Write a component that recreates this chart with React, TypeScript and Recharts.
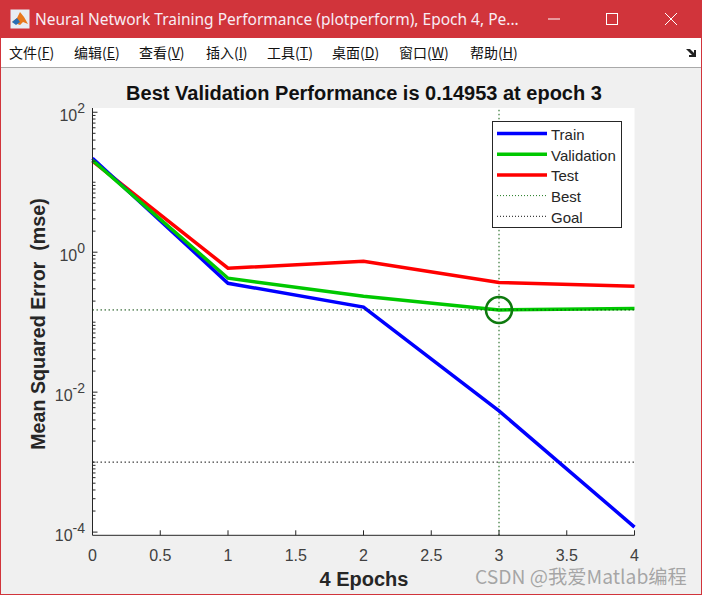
import React from "react";
import { ComposedChart, Line, XAxis, YAxis, CartesianGrid, Legend, ReferenceLine, ReferenceDot } from "recharts";

const epochs = [0, 1, 2, 3, 4];
const trainMse = [22, 0.36, 0.164, 0.0054, 0.000118];
const validationMse = [20.6, 0.425, 0.235, 0.14953, 0.157];
const testMse = [20, 0.59, 0.74, 0.37, 0.327];

const bestEpoch = 3;
const bestMse = 0.14953;
const goalMse = 0.001;

const xTicks = [0, 0.5, 1, 1.5, 2, 2.5, 3, 3.5, 4];
const majorTicks = [0.0001, 0.01, 1, 100];
const yTicks = [
  0.0001, 0.0002, 0.0003, 0.0004, 0.0005, 0.0006, 0.0007, 0.0008, 0.0009,
  0.001, 0.002, 0.003, 0.004, 0.005, 0.006, 0.007, 0.008, 0.009,
  0.01, 0.02, 0.03, 0.04, 0.05, 0.06, 0.07, 0.08, 0.09,
  0.1, 0.2, 0.3, 0.4, 0.5, 0.6, 0.7, 0.8, 0.9,
  1, 2, 3, 4, 5, 6, 7, 8, 9,
  10, 20, 30, 40, 50, 60, 70, 80, 90,
  100,
];
const yLabels: Record<number, string> = { 0.0001: "-4", 0.01: "-2", 1: "0", 100: "2" };

const legendItems = [
  { name: "Train", color: "#0000ff", width: 3.5, dash: undefined },
  { name: "Validation", color: "#00c800", width: 3.5, dash: undefined },
  { name: "Test", color: "#ff0000", width: 3.5, dash: undefined },
  { name: "Best", color: "#1f7a1f", width: 1, dash: "1 2" },
  { name: "Goal", color: "#111111", width: 1, dash: "1 2" },
];

const menus = [
  { zh: "文件", key: "F", x: 9 },
  { zh: "编辑", key: "E", x: 74 },
  { zh: "查看", key: "V", x: 139 },
  { zh: "插入", key: "I", x: 206 },
  { zh: "工具", key: "T", x: 267 },
  { zh: "桌面", key: "D", x: 332 },
  { zh: "窗口", key: "W", x: 399 },
  { zh: "帮助", key: "H", x: 470 },
];

const data = epochs.map((epoch, i) => ({
  epoch,
  train: trainMse[i],
  validation: validationMse[i],
  test: testMse[i],
}));

const FONT = "'Liberation Sans', Arial, sans-serif";
const INK = "#262626";

function XTick({ x, y, payload }: any) {
  return (
    <g>
      {payload.value !== 0 && <line x1={x} x2={x} y1={y} y2={y - 5} stroke={INK} />}
      <text x={x} y={y + 25.5} textAnchor="middle" fontSize={16} fontFamily={FONT} fill="#404040">
        {payload.value}
      </text>
    </g>
  );
}

function YTick({ x, y, payload }: any) {
  const major = majorTicks.includes(payload.value);
  const exp = yLabels[payload.value];
  return (
    <g>
      <line x1={x} x2={x + (major ? 5 : 3)} y1={y} y2={y} stroke={INK} />
      {exp && (
        <text x={x - 7.5} y={y + 8.5} textAnchor="end" fontSize={16} fontFamily={FONT} fill="#404040">
          10
          <tspan dy={-8} fontSize={14}>{exp}</tspan>
        </text>
      )}
    </g>
  );
}

function LegendBox() {
  return (
    <div style={{ width: 128, height: 105, background: "#fff", border: "1px solid #262626", fontFamily: FONT, fontSize: 15, color: INK }}>
      <svg width={128} height={105} style={{ display: "block" }}>
        {legendItems.map((item, i) => {
          const y = 11.5 + i * 20.7;
          return (
            <g key={item.name}>
              <line x1={4} x2={54} y1={y} y2={y} stroke={item.color} strokeWidth={item.width} strokeDasharray={item.dash} />
              <text x={58} y={y + 6.5} fontSize={15} fontFamily={FONT} fill={INK}>{item.name}</text>
            </g>
          );
        })}
      </svg>
    </div>
  );
}

function TitleBar() {
  return (
    <div style={{ position: "absolute", left: 0, top: 0, width: 702, height: 38, background: "#d1343b" }}>
      <svg width={20} height={20} style={{ position: "absolute", left: 10, top: 9 }}>
        <rect x={0.5} y={0.5} width={19} height={19} fill="#e8eef5" />
        <path d="M2 13 L7 9 L10 3 L14 8 L18 15 L13 13 L10 16 Z" fill="#e8791f" />
        <path d="M2 13 L7 9 L10 13 L6 16 Z" fill="#2b6fb5" />
      </svg>
      <div style={{ position: "absolute", left: 35, top: 8, fontFamily: "'Noto Sans', sans-serif", fontSize: 15.5, lineHeight: "22px", color: "#f8ecf4", whiteSpace: "nowrap" }}>
        Neural Network Training Performance (plotperform), Epoch 4, Pe...
      </div>
      <svg width={702} height={38} style={{ position: "absolute", left: 0, top: 0 }}>
        <line x1={548} x2={560} y1={19} y2={19} stroke="#fff" />
        <rect x={606.5} y={13.5} width={11} height={11} fill="none" stroke="#fff" />
        <path d="M665 13 L677 25 M677 13 L665 25" stroke="#fff" />
      </svg>
    </div>
  );
}

function MenuBar() {
  return (
    <div style={{ position: "absolute", left: 0, top: 38, width: 702, height: 30, background: "#fff", borderBottom: "1px solid #a9a9a9", boxSizing: "border-box" }}>
      {menus.map((m) => (
        <div key={m.key} style={{ position: "absolute", left: m.x, top: 3, fontFamily: "'Noto Sans CJK SC', sans-serif", fontSize: 14, lineHeight: "22px", color: "#111", whiteSpace: "nowrap" }}>
          {m.zh}(<u>{m.key}</u>)
        </div>
      ))}
      <svg width={12} height={10} style={{ position: "absolute", left: 685, top: 10 }}>
        <path d="M1 1 L5 1 L9 5 L9 2 L11 2 L11 9 L4 9 L4 7 L7 7 L3 3 Z" fill="#222" />
      </svg>
    </div>
  );
}

export default function App() {
  return (
    <div style={{ position: "absolute", left: 0, top: 0, width: 702, height: 595, overflow: "hidden", background: "#f0f0f0" }}>
      <ComposedChart
        width={702}
        height={595}
        data={data}
        margin={{ left: 42.5, right: 67.5, top: 108, bottom: 29.7 }}
        style={{ position: "absolute", left: 0, top: 0 }}
      >
        <CartesianGrid horizontal={false} vertical={false} fill="#ffffff" />
        <XAxis
          dataKey="epoch"
          type="number"
          domain={[0, 4]}
          ticks={xTicks}
          height={30}
          tick={<XTick />}
          tickLine={false}
          tickSize={0}
          tickMargin={0}
          axisLine={{ stroke: INK }}
          interval={0}
        />
        <YAxis
          type="number"
          scale="log"
          domain={[0.00009, 115]}
          allowDataOverflow
          ticks={yTicks}
          width={50}
          tick={<YTick />}
          tickLine={false}
          tickSize={0}
          tickMargin={0}
          axisLine={{ stroke: INK }}
          interval={0}
        />
        <ReferenceLine y={goalMse} stroke="#111111" strokeDasharray="1.5 2.5" />
        <ReferenceLine x={bestEpoch} stroke="#0a5a0a" strokeDasharray="1.5 2.5" />
        <Line dataKey="test" stroke="#ff0000" strokeWidth={3.5} dot={false} isAnimationActive={false} />
        <Line dataKey="train" stroke="#0000ff" strokeWidth={3.5} dot={false} isAnimationActive={false} />
        <Line dataKey="validation" stroke="#00c800" strokeWidth={3.5} dot={false} isAnimationActive={false} />
        <ReferenceLine y={bestMse} stroke="#0a4a0a" strokeDasharray="1.5 2.5" />
        <ReferenceDot x={bestEpoch} y={bestMse} r={13} fill="none" stroke="#0e7a0e" strokeWidth={2.5} />
        <Legend
          layout="vertical"
          align="center"
          verticalAlign="middle"
          content={<LegendBox />}
          wrapperStyle={{ left: 492, top: 121, width: 130, height: 107 }}
        />
      </ComposedChart>

      <TitleBar />
      <MenuBar />
      <div style={{ position: "absolute", left: 0, width: 702, top: 82, textAlign: "center", paddingLeft: 26, boxSizing: "border-box", fontFamily: FONT, fontWeight: 700, fontSize: 20, lineHeight: "22px", color: "#111" }}>
        Best Validation Performance is 0.14953 at epoch 3
      </div>
      <div style={{ position: "absolute", left: 264, width: 200, top: 568, textAlign: "center", fontFamily: FONT, fontWeight: 700, fontSize: 20, lineHeight: "22px", color: INK }}>
        4 Epochs
      </div>
      <div style={{ position: "absolute", left: 38, top: 323.5, width: 0, height: 0 }}>
        <div style={{ position: "absolute", left: -150, top: -11, width: 300, textAlign: "center", transform: "rotate(-90deg)", fontFamily: FONT, fontWeight: 700, fontSize: 19.7, lineHeight: "22px", color: INK, whiteSpace: "pre" }}>
          Mean Squared Error  (mse)
        </div>
      </div>
      <div style={{ position: "absolute", left: 475, top: 566, fontFamily: "'Noto Sans CJK SC', sans-serif", fontSize: 19.3, lineHeight: "20px", color: "rgba(90,90,90,0.5)", whiteSpace: "nowrap" }}>
        CSDN @我爱Matlab编程
      </div>
      <div style={{ position: "absolute", left: 0, top: 38, width: 1, height: 557, background: "#d1343b" }} />
      <div style={{ position: "absolute", left: 701, top: 38, width: 1, height: 557, background: "#d1343b" }} />
      <div style={{ position: "absolute", left: 0, top: 594, width: 702, height: 1, background: "#d1343b" }} />
    </div>
  );
}
